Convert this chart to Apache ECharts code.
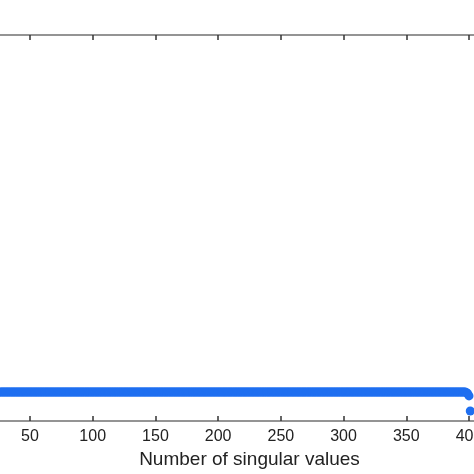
<!DOCTYPE html>
<html>
<head>
<meta charset="utf-8">
<script src="https://cdn.jsdelivr.net/npm/echarts@6/dist/echarts.min.js"></script>
<style>
html,body{margin:0;padding:0;background:#fff;}
#chart{width:474px;height:474px;}
</style>
</head>
<body>
<div id="chart"></div>
<script>
// x tick labels
var xTicks = [0, 50, 100, 150, 200, 250, 300, 350, 400, 450];
var xTitle = 'Number of singular values';
// singular values, index 1..401
var headValues = [95, 30, 15, 10, 8.5, 8, 7.8];
var plateauValues = [
7.5,7.5,7.5,7.5,7.5,7.5,7.5,7.5,7.5,7.5, 7.5,7.5,7.5,7.5,7.5,7.5,7.5,7.5,7.5,7.5, 7.5,7.5,7.5,7.5,7.5,7.5,7.5,7.5,7.5,7.5,
7.5,7.5,7.5,7.5,7.5,7.5,7.5,7.5,7.5,7.5, 7.5,7.5,7.5,7.5,7.5,7.5,7.5,7.5,7.5,7.5, 7.5,7.5,7.5,7.5,7.5,7.5,7.5,7.5,7.5,7.5,
7.5,7.5,7.5,7.5,7.5,7.5,7.5,7.5,7.5,7.5, 7.5,7.5,7.5,7.5,7.5,7.5,7.5,7.5,7.5,7.5, 7.5,7.5,7.5,7.5,7.5,7.5,7.5,7.5,7.5,7.5,
7.5,7.5,7.5,7.5,7.5,7.5,7.5,7.5,7.5,7.5, 7.5,7.5,7.5,7.5,7.5,7.5,7.5,7.5,7.5,7.5, 7.5,7.5,7.5,7.5,7.5,7.5,7.5,7.5,7.5,7.5,
7.5,7.5,7.5,7.5,7.5,7.5,7.5,7.5,7.5,7.5, 7.5,7.5,7.5,7.5,7.5,7.5,7.5,7.5,7.5,7.5, 7.5,7.5,7.5,7.5,7.5,7.5,7.5,7.5,7.5,7.5,
7.5,7.5,7.5,7.5,7.5,7.5,7.5,7.5,7.5,7.5, 7.5,7.5,7.5,7.5,7.5,7.5,7.5,7.5,7.5,7.5, 7.5,7.5,7.5,7.5,7.5,7.5,7.5,7.5,7.5,7.5,
7.5,7.5,7.5,7.5,7.5,7.5,7.5,7.5,7.5,7.5, 7.5,7.5,7.5,7.5,7.5,7.5,7.5,7.5,7.5,7.5, 7.5,7.5,7.5,7.5,7.5,7.5,7.5,7.5,7.5,7.5,
7.5,7.5,7.5,7.5,7.5,7.5,7.5,7.5,7.5,7.5, 7.5,7.5,7.5,7.5,7.5,7.5,7.5,7.5,7.5,7.5, 7.5,7.5,7.5,7.5,7.5,7.5,7.5,7.5,7.5,7.5,
7.5,7.5,7.5,7.5,7.5,7.5,7.5,7.5,7.5,7.5, 7.5,7.5,7.5,7.5,7.5,7.5,7.5,7.5,7.5,7.5, 7.5,7.5,7.5,7.5,7.5,7.5,7.5,7.5,7.5,7.5,
7.5,7.5,7.5,7.5,7.5,7.5,7.5,7.5,7.5,7.5, 7.5,7.5,7.5,7.5,7.5,7.5,7.5,7.5,7.5,7.5, 7.5,7.5,7.5,7.5,7.5,7.5,7.5,7.5,7.5,7.5,
7.5,7.5,7.5,7.5,7.5,7.5,7.5,7.5,7.5,7.5, 7.5,7.5,7.5,7.5,7.5,7.5,7.5,7.5,7.5,7.5, 7.5,7.5,7.5,7.5,7.5,7.5,7.5,7.5,7.5,7.5,
7.5,7.5,7.5,7.5,7.5,7.5,7.5,7.5,7.5,7.5, 7.5,7.5,7.5,7.5,7.5,7.5,7.5,7.5,7.5,7.5, 7.5,7.5,7.5,7.5,7.5,7.5,7.5,7.5,7.5,7.5,
7.5,7.5,7.5,7.5,7.5,7.5,7.5,7.5,7.5,7.5, 7.5,7.5,7.5,7.5,7.5,7.5,7.5,7.5,7.5,7.5, 7.5,7.5,7.5,7.5,7.5,7.5,7.5,7.5,7.5,7.5
];
var tailValues = [7.35, 7.1, 6.5, 2.6];

var singularValues = headValues.concat(plateauValues, tailValues);
var points = singularValues.map(function (v, i) { return [i + 1, v]; });

var chart = echarts.init(document.getElementById('chart'), null, {renderer: 'canvas'});
var fontFam = 'Liberation Sans, Arial, Helvetica, sans-serif';
var axisCommon = {
  type: 'value',
  min: xTicks[0],
  max: xTicks[xTicks.length - 1],
  interval: 50,
  splitLine: {show: false},
  axisLine: {show: true, lineStyle: {color: '#707070', width: 1.5}},
  axisTick: {show: true, inside: true, length: 5, lineStyle: {color: '#333', width: 1.5}}
};
chart.setOption({
  animation: false,
  backgroundColor: '#ffffff',
  grid: {left: -32.7, right: -57.7, top: 35, bottom: 53, containLabel: false, outerBoundsMode: 'none'},
  xAxis: [
    Object.assign({}, axisCommon, {
      position: 'bottom',
      name: xTitle,
      nameLocation: 'middle',
      nameGap: 28,
      nameTextStyle: {fontFamily: fontFam, fontSize: 19, color: '#222'},
      axisLabel: {show: true, margin: 8, fontFamily: fontFam, fontSize: 16, color: '#222'}
    }),
    Object.assign({}, axisCommon, {
      position: 'top',
      axisLabel: {show: false}
    })
  ],
  yAxis: {
    type: 'value', min: 0, max: 100, show: false
  },
  series: [{
    type: 'scatter',
    xAxisIndex: 0,
    data: points,
    symbol: 'circle',
    symbolSize: 9,
    itemStyle: {color: '#1f6ff0', opacity: 1}
  }]
});
</script>
</body>
</html>
